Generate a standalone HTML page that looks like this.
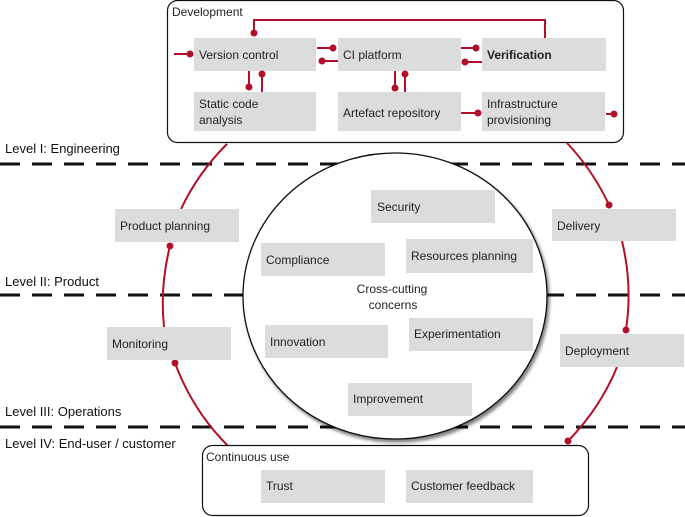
<!DOCTYPE html>
<html><head><meta charset="utf-8"><style>
html,body{margin:0;padding:0;background:#fff;}
svg{display:block;font-family:"Liberation Sans",sans-serif;}
.b{fill:#dcdcdc;}
.t{font-size:12px;fill:#222;}
.l{font-size:13px;fill:#111;}
.r{stroke:#b0102a;stroke-width:2;fill:none;}
.d{fill:#b0102a;}
.dash{stroke:#111;stroke-width:3;stroke-dasharray:20 12;}
</style></head><body>
<svg width="685" height="517" viewBox="0 0 685 517">
<defs><filter id="sh" x="-10%" y="-10%" width="130%" height="130%"><feDropShadow dx="2" dy="3" stdDeviation="1.5" flood-color="#000" flood-opacity="0.5"/></filter></defs>
<!-- dashed lines -->
<line class="dash" x1="0" y1="164" x2="685" y2="164"/>
<line class="dash" x1="0" y1="295" x2="685" y2="295"/>
<line class="dash" x1="0" y1="427" x2="685" y2="427"/>
<text class="l" x="5" y="153">Level I: Engineering</text>
<text class="l" x="5" y="286">Level II: Product</text>
<text class="l" x="5" y="416">Level III: Operations</text>
<text class="l" x="5" y="448">Level IV: End-user / customer</text>
<!-- red outer arcs -->
<path class="r" d="M227 144 A232 232 0 0 0 181 209"/>
<path class="r" d="M170 246 A232 232 0 0 0 164 327"/>
<path class="r" d="M175 363 A232 232 0 0 0 228 446"/>
<path class="r" d="M567 143 A232 232 0 0 1 609 205"/>
<path class="r" d="M622 241 A232 232 0 0 1 626 330"/>
<path class="r" d="M617 367 A232 232 0 0 1 568 441"/>
<circle class="d" cx="170" cy="246" r="3.5"/>
<circle class="d" cx="175" cy="363" r="3.5"/>
<circle class="d" cx="609" cy="205" r="3.5"/>
<circle class="d" cx="626" cy="330" r="3.5"/>
<circle class="d" cx="568" cy="441" r="3.5"/>
<!-- inner circle -->
<ellipse cx="395" cy="296" rx="152" ry="143" fill="#fff" stroke="#111" stroke-width="1.3" filter="url(#sh)"/>
<rect class="b" x="371" y="190" width="124" height="33"/><text class="t" x="377" y="211">Security</text>
<rect class="b" x="261" y="243" width="124" height="33"/><text class="t" x="266" y="264">Compliance</text>
<rect class="b" x="406" y="239" width="127" height="34"/><text class="t" x="411" y="260">Resources planning</text>
<text class="t" x="392" y="293" text-anchor="middle">Cross-cutting</text>
<text class="t" x="393" y="309" text-anchor="middle">concerns</text>
<rect class="b" x="265" y="325" width="123" height="33"/><text class="t" x="270" y="346">Innovation</text>
<rect class="b" x="409" y="318" width="124" height="33"/><text class="t" x="414" y="338">Experimentation</text>
<rect class="b" x="348" y="383" width="124" height="33"/><text class="t" x="353" y="403">Improvement</text>
<!-- side boxes -->
<rect class="b" x="115" y="209" width="124" height="33"/><text class="t" x="120" y="230">Product planning</text>
<rect class="b" x="107" y="327" width="124" height="33"/><text class="t" x="112" y="348">Monitoring</text>
<rect class="b" x="552" y="209" width="124" height="32"/><text class="t" x="557" y="230">Delivery</text>
<rect class="b" x="560" y="334" width="124" height="33"/><text class="t" x="565" y="355">Deployment</text>
<!-- continuous use -->
<rect x="202.5" y="445.5" width="386" height="70" rx="10" fill="#fff" stroke="#111" stroke-width="1.2"/>
<text class="t" x="206" y="461">Continuous use</text>
<rect class="b" x="261" y="470" width="124" height="33"/><text class="t" x="266" y="490">Trust</text>
<rect class="b" x="406" y="470" width="127" height="33"/><text class="t" x="411" y="490">Customer feedback</text>
<!-- development -->
<rect x="167.5" y="0.5" width="456" height="142" rx="10" fill="#fff" stroke="#111" stroke-width="1.2"/>
<text class="t" x="172" y="16">Development</text>
<rect class="b" x="194" y="38" width="122" height="33"/><text class="t" x="199" y="59">Version control</text>
<rect class="b" x="338" y="38" width="123" height="33"/><text class="t" x="343" y="59">CI platform</text>
<rect class="b" x="482" y="38" width="124" height="33"/><text class="t" x="487" y="59" font-weight="bold" style="font-weight:600">Verification</text>
<rect class="b" x="194" y="92" width="122" height="39"/><text class="t" x="199" y="108">Static code</text><text class="t" x="199" y="124">analysis</text>
<rect class="b" x="338" y="92" width="123" height="39"/><text class="t" x="343" y="117">Artefact repository</text>
<rect class="b" x="482" y="92" width="123" height="39"/><text class="t" x="487" y="108">Infrastructure</text><text class="t" x="487" y="124">provisioning</text>
<!-- dev connectors -->
<path class="r" d="M254 33 V20 H545 V38"/><circle class="d" cx="254" cy="33" r="3.5"/>
<path class="r" d="M174 54 H190"/><circle class="d" cx="190" cy="54" r="3.5"/>
<path class="r" d="M317 48 H333"/><circle class="d" cx="333" cy="48" r="3.5"/>
<path class="r" d="M322 61 H338"/><circle class="d" cx="322" cy="61" r="3.5"/>
<path class="r" d="M461 48 H476"/><circle class="d" cx="476" cy="48" r="3.5"/>
<path class="r" d="M465 62 H482"/><circle class="d" cx="465" cy="62" r="3.5"/>
<path class="r" d="M249 71 V87"/><circle class="d" cx="249" cy="87" r="3.5"/>
<path class="r" d="M262 74 V92"/><circle class="d" cx="262" cy="74" r="3.5"/>
<path class="r" d="M395 71 V88"/><circle class="d" cx="395" cy="88" r="3.5"/>
<path class="r" d="M405 74 V92"/><circle class="d" cx="405" cy="74" r="3.5"/>
<path class="r" d="M461 113 H478"/><circle class="d" cx="478" cy="113" r="3.5"/>
<path class="r" d="M606 114 H614"/><circle class="d" cx="614" cy="114" r="3.5"/>
</svg>
</body></html>
